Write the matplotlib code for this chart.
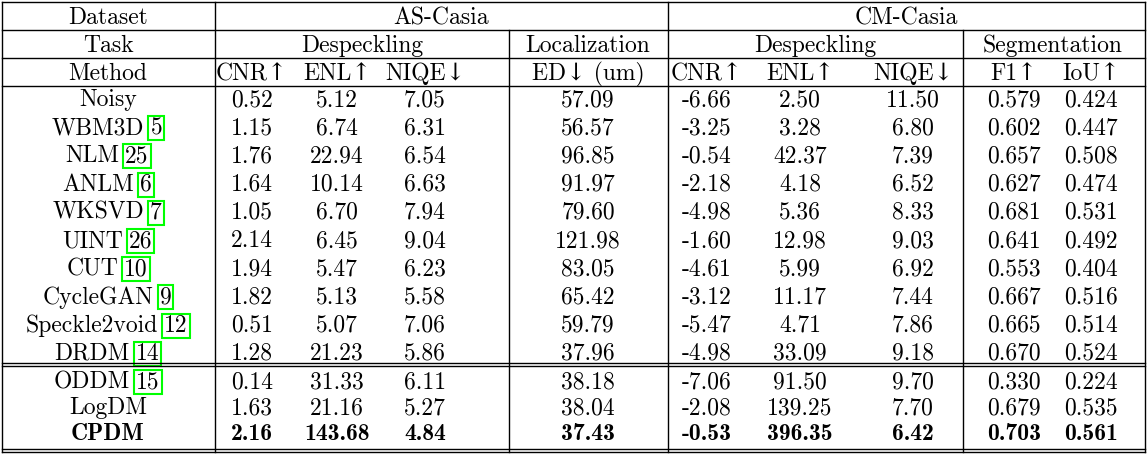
import matplotlib.pyplot as plt

plt.rcParams['font.family'] = ['cmr10', 'DejaVu Serif']
plt.rcParams['mathtext.fontset'] = 'cm'

methods = ['Noisy', 'WBM3D', 'NLM', 'ANLM', 'WKSVD', 'UINT', 'CUT', 'CycleGAN',
           'Speckle2void', 'DRDM', 'ODDM', 'LogDM', 'CPDM']
refs = ['', '5', '25', '6', '7', '26', '10', '9', '12', '14', '15', '', '']
as_cnr = ['0.52', '1.15', '1.76', '1.64', '1.05', '2.14', '1.94', '1.82', '0.51', '1.28', '0.14', '1.63', '2.16']
as_enl = ['5.12', '6.74', '22.94', '10.14', '6.70', '6.45', '5.47', '5.13', '5.07', '21.23', '31.33', '21.16', '143.68']
as_niqe = ['7.05', '6.31', '6.54', '6.63', '7.94', '9.04', '6.23', '5.58', '7.06', '5.86', '6.11', '5.27', '4.84']
as_ed = ['57.09', '56.57', '96.85', '91.97', '79.60', '121.98', '83.05', '65.42', '59.79', '37.96', '38.18', '38.04', '37.43']
cm_cnr = ['-6.66', '-3.25', '-0.54', '-2.18', '-4.98', '-1.60', '-4.61', '-3.12', '-5.47', '-4.98', '-7.06', '-2.08', '-0.53']
cm_enl = ['2.50', '3.28', '42.37', '4.18', '5.36', '12.98', '5.99', '11.17', '4.71', '33.09', '91.50', '139.25', '396.35']
cm_niqe = ['11.50', '6.80', '7.39', '6.52', '8.33', '9.03', '6.92', '7.44', '7.86', '9.18', '9.70', '7.70', '6.42']
cm_f1 = ['0.579', '0.602', '0.657', '0.627', '0.681', '0.641', '0.553', '0.667', '0.665', '0.670', '0.330', '0.679', '0.703']
cm_iou = ['0.424', '0.447', '0.508', '0.474', '0.531', '0.492', '0.404', '0.516', '0.514', '0.524', '0.224', '0.535', '0.561']
columns = [as_cnr, as_enl, as_niqe, as_ed, cm_cnr, cm_enl, cm_niqe, cm_f1, cm_iou]
col_heads = ['CNR↑', 'ENL↑', 'NIQE↓', 'ED↓ (um)',
             'CNR↑', 'ENL↑', 'NIQE↓', 'F1↑', 'IoU↑']

fig = plt.figure(figsize=(11.48, 4.54), dpi=100)
ax = fig.add_axes([0, 0, 1, 1])
ax.set_xlim(0, 1148)
ax.set_ylim(454, 0)
ax.axis('off')
renderer = fig.canvas.get_renderer()

fs = 17
dy = 2
col_x = [252, 337, 425, 588, 707, 800, 913, 1014, 1091]
row_y = [98 + 28.2 * i for i in range(10)] + [380, 406, 432]
reg = ['cmr10', 'DejaVu Serif']
bld = ['cmb10', 'DejaVu Serif']


def width(s, fam):
    t = ax.text(0, 0, s, fontsize=fs, family=fam)
    w = t.get_window_extent(renderer).width
    t.remove()
    return w


# header rows
heads = [(108, 16, 'Dataset'), (441, 16, 'AS-Casia'), (906, 16, 'CM-Casia'),
         (108, 44, 'Task'), (362, 44, 'Despeckling'), (588, 44, 'Localization'),
         (815, 44, 'Despeckling'), (1053, 44, 'Segmentation'), (108, 72, 'Method')]
for x, y, s in heads:
    ax.text(x, y + dy, s, ha='center', va='center', fontsize=fs)
for x, h in zip(col_x, col_heads):
    ax.text(x, 72 + dy, h, ha='center', va='center', fontsize=fs)

# body
for i, m in enumerate(methods):
    y = row_y[i] + dy
    fam = bld if m == 'CPDM' else reg
    if refs[i]:
        wm = width(m, fam)
        wr = width(refs[i], fam)
        gap = 4
        total = wm + gap + wr + 4
        x0 = 108 - total / 2
        ax.text(x0, y, m, ha='left', va='center', fontsize=fs, family=fam)
        xr = x0 + wm + gap + 2
        ax.add_patch(plt.Rectangle((xr - 2, y - 12), wr + 4, 24, fill=False,
                                   edgecolor='#00ff00', lw=1.5))
        ax.text(xr, y, refs[i], ha='left', va='center', fontsize=fs, family=fam)
    else:
        ax.text(108, y, m, ha='center', va='center', fontsize=fs, family=fam)
    for x, col in zip(col_x, columns):
        ax.text(x, y, col[i], ha='center', va='center', fontsize=fs, family=fam)

# rules
lw = 1.0
for y in [2, 30, 58, 86, 363, 366, 449, 452]:
    ax.plot([2, 1145], [y, y], color='black', lw=lw)
for x in [2, 215, 668, 1145]:
    ax.plot([x, x], [2, 452], color='black', lw=lw)
for x in [509, 963]:
    ax.plot([x, x], [30, 452], color='black', lw=lw)

fig.savefig('out.png', dpi=100)
